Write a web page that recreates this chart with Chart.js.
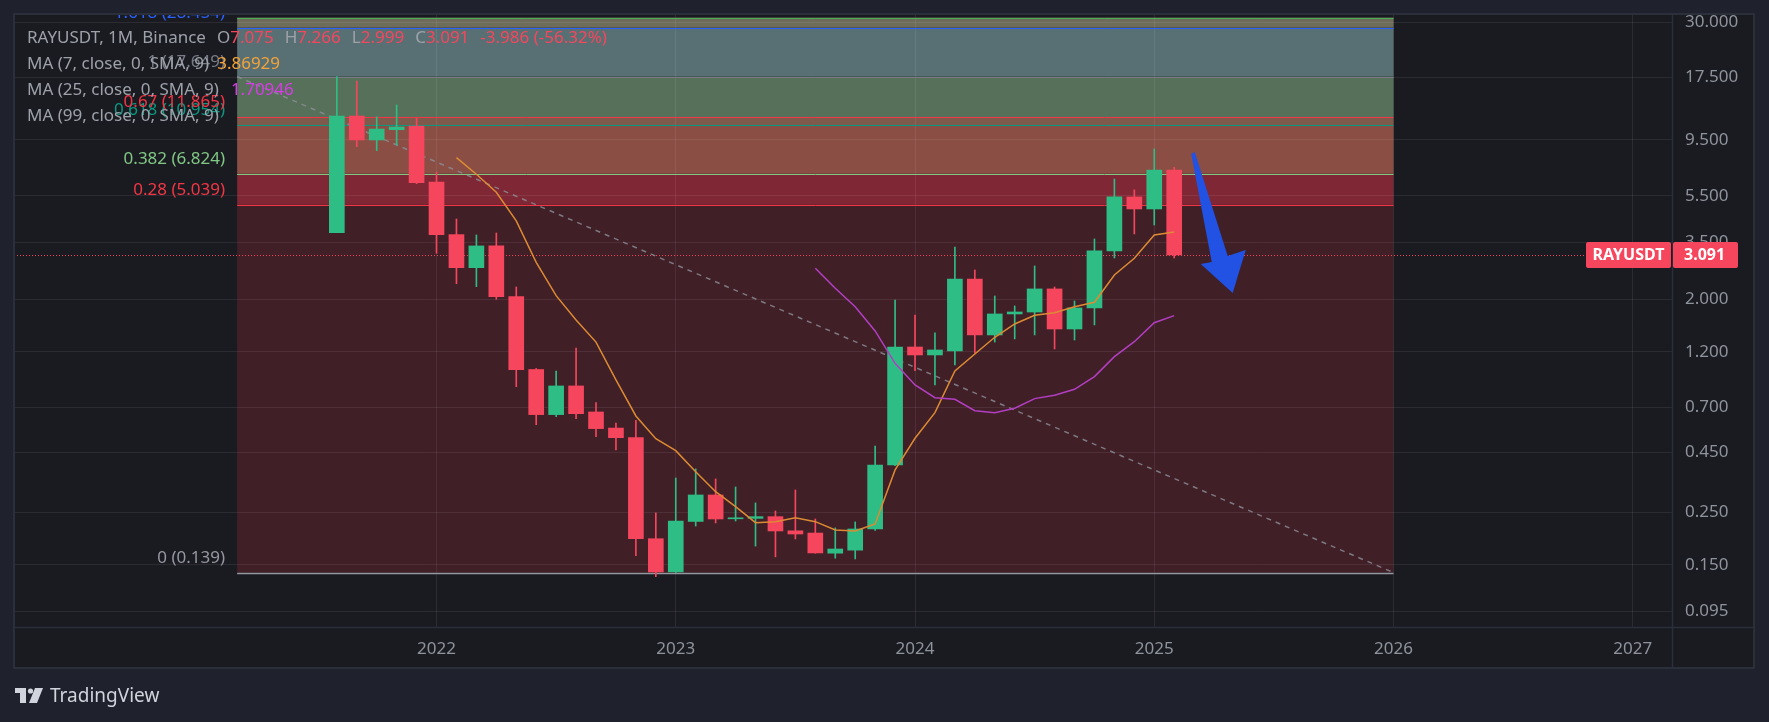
<!DOCTYPE html>
<html>
<head>
<meta charset="utf-8">
<title>RAYUSDT 1M</title>
<script src="https://cdn.jsdelivr.net/npm/chart.js@4.4.1/dist/chart.umd.min.js"></script>
<style>
  html, body { margin: 0; padding: 0; background: #1f222c; }
  #wrap { position: relative; width: 1769px; height: 722px; overflow: hidden; font-family: "Noto Sans", "DejaVu Sans", sans-serif; }
  #chart { position: absolute; left: 0; top: 0; }
  .legend { position: absolute; left: 27px; top: 24px; font-size: 17px; line-height: 26px; color: #9ea1aa; white-space: nowrap; }
  .legend .red { color: #f6465d; }
  .legend .gap { margin-left: 11px; }
  .legend .ma7 { color: #f2a33a; margin-left: 8px; }
  .legend .ma25 { color: #d93be8; margin-left: 12px; }
  .logo { position: absolute; left: 15px; top: 683px; height: 24px; display: flex; align-items: center; color: #d1d4dc; font-size: 19px; }
  .logo svg { margin-right: 7px; }
</style>
</head>
<body>
<div id="wrap">
  <canvas id="chart" width="1769" height="722"></canvas>
  <div class="legend">
    <div id="lg1"></div>
    <div>MA (7, close, 0, SMA, 9)<span class="ma7" id="lg2"></span></div>
    <div>MA (25, close, 0, SMA, 9)<span class="ma25" id="lg3"></span></div>
    <div>MA (99, close, 0, SMA, 9)</div>
  </div>
  <div class="logo">
    <svg width="28" height="15" viewBox="0 0 28 15">
      <rect x="0" y="0" width="11" height="5" fill="#d1d4dc"/>
      <rect x="5" y="0" width="6" height="15" fill="#d1d4dc"/>
      <circle cx="15.5" cy="3" r="2.6" fill="#d1d4dc"/>
      <polygon points="20,0 28,0 22,15 14,15" fill="#d1d4dc"/>
    </svg>
    <span>TradingView</span>
  </div>
</div>
<script>
// monthly candles, RAYUSDT on Binance
const months = [
  "2021-08","2021-09","2021-10","2021-11","2021-12",
  "2022-01","2022-02","2022-03","2022-04","2022-05","2022-06","2022-07","2022-08","2022-09","2022-10","2022-11","2022-12",
  "2023-01","2023-02","2023-03","2023-04","2023-05","2023-06","2023-07","2023-08","2023-09","2023-10","2023-11","2023-12",
  "2024-01","2024-02","2024-03","2024-04","2024-05","2024-06","2024-07","2024-08","2024-09","2024-10","2024-11","2024-12",
  "2025-01","2025-02"
];
const opens = [
  3.84, 12.0, 9.5, 10.5, 10.89,
  6.3, 3.77, 2.73, 3.375, 2.06, 1.01, 0.65, 0.86, 0.667, 0.57, 0.52, 0.1935,
  0.14, 0.229, 0.2966, 0.235, 0.236, 0.240, 0.209, 0.2045, 0.168, 0.173, 0.213, 0.398,
  1.258, 1.164, 1.21, 2.444, 1.415, 1.737, 1.77, 2.218, 1.5, 1.842, 3.214, 5.445,
  4.843, 7.075
];
const highs = [
  17.64, 16.9, 11.89, 13.37, 11.74,
  6.93, 4.39, 3.757, 3.83, 2.26, 1.02, 0.995, 1.246, 0.731, 0.599, 0.615, 0.249,
  0.35, 0.3825, 0.347, 0.3207, 0.2744, 0.2537, 0.3114, 0.2346, 0.215, 0.228, 0.4786, 1.991,
  1.72, 1.443, 3.34, 2.669, 2.07, 1.878, 2.776, 2.26, 1.972, 3.613, 6.49, 5.833,
  8.70, 7.266
];
const lows = [
  3.84, 8.9, 8.56, 9.04, 6.2,
  3.14, 2.335, 2.268, 2.005, 0.854, 0.589, 0.637, 0.625, 0.524, 0.46, 0.164, 0.1336,
  0.139, 0.219, 0.2257, 0.230, 0.180, 0.162, 0.193, 0.168, 0.160, 0.1588, 0.21, 0.395,
  0.998, 0.868, 1.056, 1.187, 1.32, 1.361, 1.415, 1.234, 1.347, 1.56, 3.0, 3.795,
  4.14, 2.999
];
const closes = [
  12.0, 9.5, 10.57, 10.78, 6.26,
  3.77, 2.73, 3.375, 2.057, 1.008, 0.65, 0.86, 0.656, 0.567, 0.519, 0.1935, 0.1398,
  0.230, 0.2966, 0.2346, 0.237, 0.240, 0.2087, 0.2026, 0.1684, 0.175, 0.2128, 0.3975, 1.258,
  1.164, 1.222, 2.444, 1.415, 1.737, 1.771, 2.218, 1.5, 1.842, 3.214, 5.445, 4.843,
  7.077, 3.091
];

// MA(7) from 2022-02, MA(25) from 2023-08
const ma7Start = "2022-02";
const ma7 = [
  7.99, 6.80, 5.70, 4.31, 2.877, 2.077, 1.638, 1.32, 0.912, 0.6415, 0.514,
  0.457, 0.3724, 0.3063, 0.2647, 0.2263, 0.2285, 0.2376, 0.2285, 0.2107, 0.2087, 0.2234, 0.3788,
  0.516, 0.6625, 0.995, 1.175, 1.383, 1.575, 1.715, 1.759, 1.865, 1.947, 2.542, 2.992,
  3.757, 3.86929
];
const ma25Start = "2023-08";
const ma25 = [
  2.714, 2.233, 1.865, 1.472, 1.073,
  0.868, 0.767, 0.755, 0.6756, 0.6625, 0.6915, 0.76, 0.785, 0.8325, 0.9417, 1.145, 1.325,
  1.595, 1.70946
];

// fibonacci retracement drawn from 2021-03 to 2026-01
const fibStart = "2021-03";
const fibEnd = "2026-01";
const fibLevels = ["0", "0.28", "0.382", "0.618", "0.67", "1", "1.618", "1.786"];
const fibPrices = [0.139, 5.039, 6.824, 10.954, 11.865, 17.649, 28.454, 31.39];

// axis ticks
const yearTicks = [2022, 2023, 2024, 2025, 2026, 2027];
const priceTicks = [0.095, 0.15, 0.25, 0.45, 0.7, 1.2, 2.0, 3.5, 5.5, 9.5, 17.5, 30];

// styles
const UP = "#2ebd85", DOWN = "#f6465d";
const fibLineColors = ["#9598a1", "#f23645", "#81c784", "#089981", "#f23645", "#787b86", "#2962ff", "#4caf50"];
const fibBandColors = ["#401f27", "#7f2734", "#8a4e45", "#7d5a4b", "#57705a", "#587074", "#6e6c5a"];
const FONT = '"Noto Sans", "DejaVu Sans", sans-serif';
const AXIS_TEXT = "#8f939c";

function mx(s) {
  const [y, m] = s.split("-").map(Number);
  return y + (m - 1) / 12;
}
const ma7Offset = months.indexOf(ma7Start);
const ma25Offset = months.indexOf(ma25Start);
const candleColors = closes.map((c, i) => c >= opens[i] ? UP : DOWN);

// hand drawn arrow, in (time, price) units
const arrowShape = [
  [2025.1546, 8.286], [2025.1692, 8.45], [2025.3070, 3.061], [2025.3822, 3.245],
  [2025.3279, 2.132], [2025.1942, 2.830], [2025.2402, 2.886]
];

function boxPath(c, x, y, w, h, r) {
  c.beginPath();
  c.moveTo(x + r, y);
  c.lineTo(x + w - r, y);
  c.quadraticCurveTo(x + w, y, x + w, y + r);
  c.lineTo(x + w, y + h - r);
  c.quadraticCurveTo(x + w, y + h, x + w - r, y + h);
  c.lineTo(x + r, y + h);
  c.quadraticCurveTo(x, y + h, x, y + h - r);
  c.lineTo(x, y + r);
  c.quadraticCurveTo(x, y, x + r, y);
  c.closePath();
}

const backdrop = {
  id: "backdrop",
  beforeDraw(chart) {
    const c = chart.ctx, a = chart.chartArea;
    const xs = chart.scales.x, ys = chart.scales.y;
    c.save();
    c.fillStyle = "#1f222c";
    c.fillRect(0, 0, chart.width, chart.height);
    c.fillStyle = "#1a1b21";
    c.fillRect(14, 14, 1740, 654);
    // fib zones
    c.beginPath();
    c.rect(a.left, a.top, a.right - a.left, a.bottom - a.top);
    c.clip();
    const x0 = xs.getPixelForValue(mx(fibStart)), x1 = xs.getPixelForValue(mx(fibEnd));
    for (let i = 0; i < fibPrices.length - 1; i++) {
      const yA = ys.getPixelForValue(fibPrices[i]);
      const yB = ys.getPixelForValue(fibPrices[i + 1]);
      c.fillStyle = fibBandColors[i];
      c.fillRect(x0, yB, x1 - x0, yA - yB);
    }
    c.restore();
  },
  beforeDatasetsDraw(chart) {
    const c = chart.ctx, a = chart.chartArea;
    const xs = chart.scales.x, ys = chart.scales.y;
    c.save();
    c.beginPath();
    c.rect(a.left, a.top, a.right - a.left, a.bottom - a.top);
    c.clip();
    const x0 = xs.getPixelForValue(mx(fibStart)), x1 = xs.getPixelForValue(mx(fibEnd));
    c.font = "17px " + FONT;
    c.textAlign = "right";
    c.textBaseline = "middle";
    fibPrices.forEach((p, i) => {
      const y = Math.round(ys.getPixelForValue(p)) + 0.5;
      c.strokeStyle = fibLineColors[i];
      c.lineWidth = i === 0 ? 1.5 : 1;
      c.beginPath();
      c.moveTo(x0, y);
      c.lineTo(x1, y);
      c.stroke();
      c.fillStyle = fibLineColors[i];
      c.fillText(fibLevels[i] + " (" + p.toFixed(3) + ")", x0 - 12, y - 15);
    });
    // last price line
    const yp = Math.round(ys.getPixelForValue(closes[closes.length - 1])) + 0.5;
    c.strokeStyle = DOWN;
    c.lineWidth = 1;
    c.setLineDash([1, 2]);
    c.beginPath();
    c.moveTo(a.left, yp);
    c.lineTo(a.right, yp);
    c.stroke();
    c.restore();
  },
  afterDatasetsDraw(chart) {
    const c = chart.ctx, xs = chart.scales.x, ys = chart.scales.y;
    c.save();
    c.fillStyle = "#2152e3";
    c.beginPath();
    arrowShape.forEach(([t, p], i) => {
      const x = xs.getPixelForValue(t), y = ys.getPixelForValue(p);
      if (i === 0) c.moveTo(x, y); else c.lineTo(x, y);
    });
    c.closePath();
    c.fill();
    c.restore();
  },
  afterDraw(chart) {
    const c = chart.ctx, a = chart.chartArea, ys = chart.scales.y;
    c.save();
    // panel frame and axis separators
    c.strokeStyle = "#2b2f3a";
    c.lineWidth = 2;
    c.strokeRect(14, 14, 1740, 654);
    c.lineWidth = 1.5;
    c.beginPath();
    c.moveTo(14, a.bottom + 0.5); c.lineTo(1754, a.bottom + 0.5);
    c.moveTo(a.right + 0.5, 14); c.lineTo(a.right + 0.5, 668);
    c.stroke();
    // price tags
    const last = closes[closes.length - 1];
    const y = ys.getPixelForValue(last);
    c.fillStyle = DOWN;
    boxPath(c, a.right + 1, y - 13, 65, 26, 2); c.fill();
    boxPath(c, a.right - 86, y - 13, 85, 26, 2); c.fill();
    c.fillStyle = "#ffffff";
    c.font = "bold 16px " + FONT;
    c.textBaseline = "middle";
    c.textAlign = "left";
    c.fillText(last.toFixed(3), a.right + 12, y + 1);
    c.textAlign = "center";
    c.fillText("RAYUSDT", a.right - 43.5, y + 1);
    c.restore();
  }
};

// legend text
const n = closes.length - 1;
const chg = closes[n] - closes[n - 1];
document.getElementById("lg1").innerHTML =
  "RAYUSDT, 1M, Binance" +
  '<span class="gap">O</span><span class="red">' + opens[n].toFixed(3) + "</span>" +
  '<span class="gap">H</span><span class="red">' + highs[n].toFixed(3) + "</span>" +
  '<span class="gap">L</span><span class="red">' + lows[n].toFixed(3) + "</span>" +
  '<span class="gap">C</span><span class="red">' + closes[n].toFixed(3) + "</span>" +
  '<span class="gap red">' + chg.toFixed(3) + " (" + (chg / closes[n - 1] * 100).toFixed(2) + "%)</span>";
document.getElementById("lg2").textContent = ma7[ma7.length - 1].toFixed(5);
document.getElementById("lg3").textContent = ma25[ma25.length - 1].toFixed(5);

Chart.defaults.font.family = FONT;

const gridColor = "rgba(255,255,255,0.075)";

new Chart(document.getElementById("chart"), {
  type: "bar",
  data: {
    datasets: [
      {
        type: "line",
        label: "trend",
        data: [
          { x: mx(fibStart), y: fibPrices[5] },
          { x: mx(fibEnd), y: fibPrices[0] }
        ],
        borderColor: "rgba(140,143,152,0.8)",
        borderWidth: 1.5,
        borderDash: [5, 5],
        pointRadius: 0,
        order: 6
      },
      {
        label: "wicks",
        data: months.map((m, i) => ({ x: mx(m), y: [lows[i], highs[i]] })),
        backgroundColor: candleColors,
        barThickness: 1,
        grouped: false,
        order: 5
      },
      {
        label: "bodies",
        data: months.map((m, i) => ({ x: mx(m), y: [opens[i], closes[i]] })),
        backgroundColor: candleColors,
        barThickness: 15,
        minBarLength: 1,
        grouped: false,
        order: 4
      },
      {
        type: "line",
        label: "MA 7",
        data: ma7.map((v, i) => ({ x: mx(months[i + ma7Offset]), y: v })),
        borderColor: "#dd8b33",
        borderWidth: 1.5,
        pointRadius: 0,
        order: 2
      },
      {
        type: "line",
        label: "MA 25",
        data: ma25.map((v, i) => ({ x: mx(months[i + ma25Offset]), y: v })),
        borderColor: "#b23fc2",
        borderWidth: 1.5,
        pointRadius: 0,
        order: 1
      }
    ]
  },
  options: {
    responsive: false,
    animation: false,
    events: [],
    layout: { padding: { left: 14, top: 14, right: 15, bottom: 54 } },
    plugins: { legend: { display: false }, tooltip: { enabled: false } },
    scales: {
      x: {
        type: "linear",
        min: 2020.234,
        max: 2027.164,
        bounds: "data",
        offset: false,
        grid: { color: gridColor, drawTicks: false, offset: false },
        border: { display: false },
        ticks: {
          color: AXIS_TEXT,
          font: { size: 17 },
          padding: 12,
          maxRotation: 0,
          autoSkip: false,
          callback: v => String(v)
        },
        afterBuildTicks: s => { s.ticks = yearTicks.map(v => ({ value: v })); },
        afterFit: s => { s.height = 41; }
      },
      y: {
        type: "logarithmic",
        position: "right",
        min: 0.0817,
        max: 32.5,
        bounds: "data",
        grid: { color: gridColor, drawTicks: true, tickLength: 13, tickColor: "rgba(0,0,0,0)" },
        border: { display: false },
        ticks: {
          color: AXIS_TEXT,
          font: { size: 17 },
          padding: 0,
          crossAlign: "near",
          autoSkip: false,
          callback: v => Number(v).toFixed(3)
        },
        afterBuildTicks: s => { s.ticks = priceTicks.map(v => ({ value: v })); },
        afterFit: s => { s.width = 82; }
      }
    }
  },
  plugins: [backdrop]
});
</script>
</body>
</html>
